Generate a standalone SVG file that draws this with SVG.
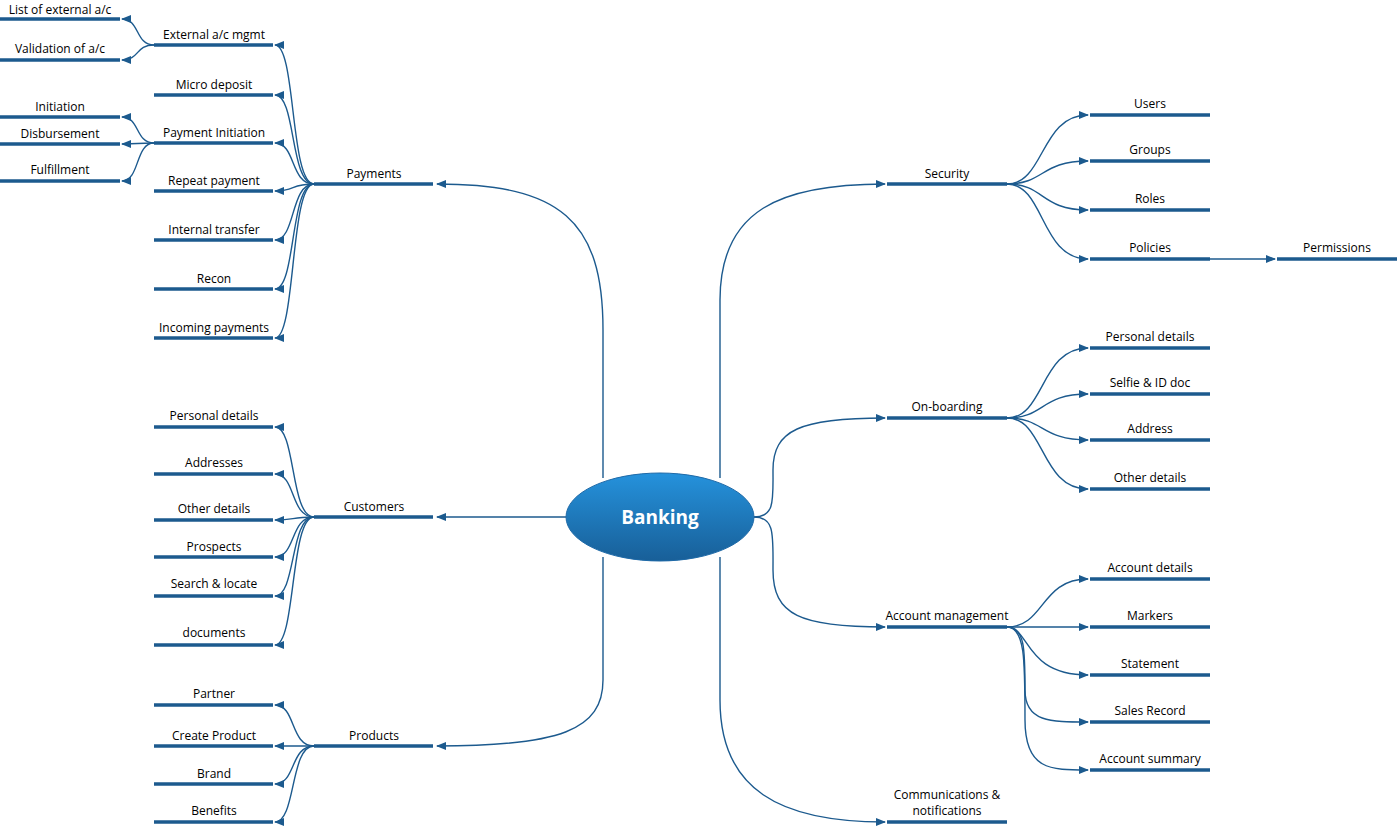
<svg xmlns="http://www.w3.org/2000/svg" width="1400" height="827" viewBox="0 0 1400 827">
<defs>
<marker id="ar" markerUnits="userSpaceOnUse" markerWidth="10" markerHeight="8" refX="9" refY="4" orient="auto"><path d="M0,0 L10,4 L0,8 z" fill="#1c5a8e"/></marker>
<linearGradient id="g" x1="0" y1="0" x2="0" y2="1"><stop offset="0" stop-color="#2592dc"/><stop offset="1" stop-color="#185f98"/></linearGradient>
<style>
.b{stroke:#1c5a8e;stroke-width:3.5}
.c{fill:none;stroke:#1c5a8e;stroke-width:1.4;marker-end:url(#ar)}
text{font-family:"Open Sans","Liberation Sans",sans-serif;font-size:12px;fill:#000;text-anchor:middle}
</style>
</defs>
<rect width="1400" height="827" fill="#fff"/>
<g id="connectors">
<path class="c" d="M603,478 L603,330 C603,220 560,184 437,184"/>
<path class="c" d="M566,517 L437,517"/>
<path class="c" d="M603,557 L603,680 C603,730 560,746 437,746"/>
<path class="c" d="M720,478 L720,300 C720,210 780,184 885,184"/>
<path class="c" d="M754,517 C775,517 773,500 773,470 C773,430 800,418 885,418"/>
<path class="c" d="M754,517 C775,517 773,535 773,570 C773,615 800,627 885,627"/>
<path class="c" d="M720,557 L720,700 C720,790 780,822 885,822"/>
<path class="c" d="M314,184 C290,184 296,45 275,45"/>
<path class="c" d="M314,184 C290,184 296,95 275,95"/>
<path class="c" d="M314,184 C290,184 296,143 275,143"/>
<path class="c" d="M314,184 C290,184 296,191 275,191"/>
<path class="c" d="M314,184 C290,184 296,240 275,240"/>
<path class="c" d="M314,184 C290,184 296,289 275,289"/>
<path class="c" d="M314,184 C290,184 296,338 275,338"/>
<path class="c" d="M154,45 C135,45 140,19 122,19"/>
<path class="c" d="M154,45 C135,45 140,60 122,60"/>
<path class="c" d="M154,143 C135,143 140,117 122,117"/>
<path class="c" d="M154,143 C135,143 140,144 122,144"/>
<path class="c" d="M154,143 C135,143 140,181 122,181"/>
<path class="c" d="M314,517 C290,517 296,427 275,427"/>
<path class="c" d="M314,517 C290,517 296,474 275,474"/>
<path class="c" d="M314,517 C290,517 296,520 275,520"/>
<path class="c" d="M314,517 C290,517 296,557 275,557"/>
<path class="c" d="M314,517 C290,517 296,596 275,596"/>
<path class="c" d="M314,517 C290,517 296,645 275,645"/>
<path class="c" d="M314,746 C290,746 296,705 275,705"/>
<path class="c" d="M314,746 C290,746 296,746 275,746"/>
<path class="c" d="M314,746 C290,746 296,784 275,784"/>
<path class="c" d="M314,746 C290,746 296,822 275,822"/>
<path class="c" d="M1007,184 C1045,184 1040,115 1088,115"/>
<path class="c" d="M1007,184 C1045,184 1040,161 1088,161"/>
<path class="c" d="M1007,184 C1045,184 1040,210 1088,210"/>
<path class="c" d="M1007,184 C1045,184 1040,259 1088,259"/>
<path class="c" d="M1210,259 L1275,259"/>
<path class="c" d="M1007,418 C1045,418 1040,348 1088,348"/>
<path class="c" d="M1007,418 C1045,418 1040,394 1088,394"/>
<path class="c" d="M1007,418 C1045,418 1040,440 1088,440"/>
<path class="c" d="M1007,418 C1045,418 1040,489 1088,489"/>
<path class="c" d="M1007,627 C1045,627 1040,579 1088,579"/>
<path class="c" d="M1007,627 L1088,627"/>
<path class="c" d="M1007,627 C1030,627 1024,675 1088,675"/>
<path class="c" d="M1007,627 C1025,627 1025,650 1025,690 C1025,722 1050,722 1088,722"/>
<path class="c" d="M1007,627 C1025,627 1025,660 1025,720 C1025,770 1050,770 1088,770"/>
</g>
<g id="banking"><ellipse cx="660" cy="517" rx="94" ry="44" fill="url(#g)" stroke="#1f6aa8"/><text x="660" y="524" style="font-size:19px;font-weight:bold;fill:#fff">Banking</text></g>
<g id="payments"><line class="b" x1="314" y1="184" x2="433" y2="184"/><text x="374" y="178">Payments</text></g>
<g id="customers"><line class="b" x1="314" y1="517" x2="433" y2="517"/><text x="374" y="511">Customers</text></g>
<g id="products"><line class="b" x1="314" y1="746" x2="433" y2="746"/><text x="374" y="740">Products</text></g>
<g id="ext"><line class="b" x1="154" y1="45" x2="273" y2="45"/><text x="214" y="39">External a/c mgmt</text></g>
<g id="micro"><line class="b" x1="154" y1="95" x2="273" y2="95"/><text x="214" y="89">Micro deposit</text></g>
<g id="payinit"><line class="b" x1="154" y1="143" x2="273" y2="143"/><text x="214" y="137">Payment Initiation</text></g>
<g id="repeat"><line class="b" x1="154" y1="191" x2="273" y2="191"/><text x="214" y="185">Repeat payment</text></g>
<g id="internal"><line class="b" x1="154" y1="240" x2="273" y2="240"/><text x="214" y="234">Internal transfer</text></g>
<g id="recon"><line class="b" x1="154" y1="289" x2="273" y2="289"/><text x="214" y="283">Recon</text></g>
<g id="incoming"><line class="b" x1="154" y1="338" x2="273" y2="338"/><text x="214" y="332">Incoming payments</text></g>
<g id="listext"><line class="b" x1="0" y1="19" x2="120" y2="19"/><text x="60" y="14">List of external a/c</text></g>
<g id="valid"><line class="b" x1="0" y1="60" x2="120" y2="60"/><text x="60" y="53">Validation of a/c</text></g>
<g id="initiation"><line class="b" x1="0" y1="117" x2="120" y2="117"/><text x="60" y="111">Initiation</text></g>
<g id="disb"><line class="b" x1="0" y1="144" x2="120" y2="144"/><text x="60" y="138">Disbursement</text></g>
<g id="fulfil"><line class="b" x1="0" y1="181" x2="120" y2="181"/><text x="60" y="174">Fulfillment</text></g>
<g id="cpers"><line class="b" x1="154" y1="427" x2="273" y2="427"/><text x="214" y="420">Personal details</text></g>
<g id="addr"><line class="b" x1="154" y1="474" x2="273" y2="474"/><text x="214" y="467">Addresses</text></g>
<g id="cother"><line class="b" x1="154" y1="520" x2="273" y2="520"/><text x="214" y="513">Other details</text></g>
<g id="prosp"><line class="b" x1="154" y1="557" x2="273" y2="557"/><text x="214" y="551">Prospects</text></g>
<g id="search"><line class="b" x1="154" y1="596" x2="273" y2="596"/><text x="214" y="588">Search &amp; locate</text></g>
<g id="docs"><line class="b" x1="154" y1="645" x2="273" y2="645"/><text x="214" y="637">documents</text></g>
<g id="partner"><line class="b" x1="154" y1="705" x2="273" y2="705"/><text x="214" y="698">Partner</text></g>
<g id="create"><line class="b" x1="154" y1="746" x2="273" y2="746"/><text x="214" y="740">Create Product</text></g>
<g id="brand"><line class="b" x1="154" y1="784" x2="273" y2="784"/><text x="214" y="778">Brand</text></g>
<g id="benefits"><line class="b" x1="154" y1="822" x2="273" y2="822"/><text x="214" y="815">Benefits</text></g>
<g id="security"><line class="b" x1="887" y1="184" x2="1007" y2="184"/><text x="947" y="178">Security</text></g>
<g id="onboard"><line class="b" x1="887" y1="418" x2="1007" y2="418"/><text x="947" y="411">On-boarding</text></g>
<g id="acct"><line class="b" x1="887" y1="627" x2="1007" y2="627"/><text x="947" y="620">Account management</text></g>
<g id="comms"><line class="b" x1="887" y1="822" x2="1007" y2="822"/><text x="947" y="799">Communications &amp;</text><text x="947" y="815">notifications</text></g>
<g id="users"><line class="b" x1="1090" y1="115" x2="1210" y2="115"/><text x="1150" y="108">Users</text></g>
<g id="groups"><line class="b" x1="1090" y1="161" x2="1210" y2="161"/><text x="1150" y="154">Groups</text></g>
<g id="roles"><line class="b" x1="1090" y1="210" x2="1210" y2="210"/><text x="1150" y="203">Roles</text></g>
<g id="policies"><line class="b" x1="1090" y1="259" x2="1210" y2="259"/><text x="1150" y="252">Policies</text></g>
<g id="perms"><line class="b" x1="1277" y1="259" x2="1397" y2="259"/><text x="1337" y="252">Permissions</text></g>
<g id="opers"><line class="b" x1="1090" y1="348" x2="1210" y2="348"/><text x="1150" y="341">Personal details</text></g>
<g id="selfie"><line class="b" x1="1090" y1="394" x2="1210" y2="394"/><text x="1150" y="387">Selfie &amp; ID doc</text></g>
<g id="oaddr"><line class="b" x1="1090" y1="440" x2="1210" y2="440"/><text x="1150" y="433">Address</text></g>
<g id="oother"><line class="b" x1="1090" y1="489" x2="1210" y2="489"/><text x="1150" y="482">Other details</text></g>
<g id="adet"><line class="b" x1="1090" y1="579" x2="1210" y2="579"/><text x="1150" y="572">Account details</text></g>
<g id="markers"><line class="b" x1="1090" y1="627" x2="1210" y2="627"/><text x="1150" y="620">Markers</text></g>
<g id="stmt"><line class="b" x1="1090" y1="675" x2="1210" y2="675"/><text x="1150" y="668">Statement</text></g>
<g id="sales"><line class="b" x1="1090" y1="722" x2="1210" y2="722"/><text x="1150" y="715">Sales Record</text></g>
<g id="summary"><line class="b" x1="1090" y1="770" x2="1210" y2="770"/><text x="1150" y="763">Account summary</text></g>
</svg>
